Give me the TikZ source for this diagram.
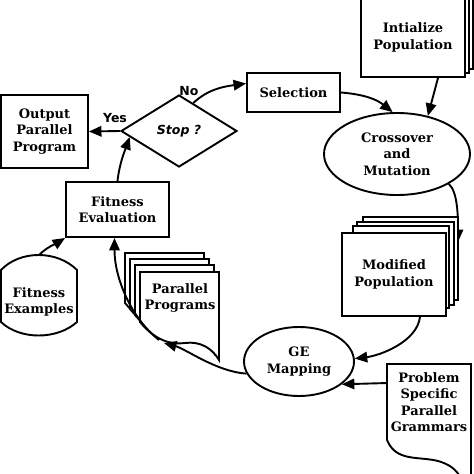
\documentclass[tikz,border=0pt]{standalone}
\usepackage{fontspec}
\setmainfont{DejaVu Serif}
\newfontfamily\labelsans{DejaVu Sans}
\usetikzlibrary{shapes.geometric,arrows.meta,calc}
\begin{document}
\begin{tikzpicture}[x=1pt,y=-1pt,
  line width=1.9pt,
  every node/.style={font=\fontsize{13}{16.5}\selectfont\bfseries, align=center, inner sep=0pt},
  box/.style={draw, rectangle, fill=white},
  page/.style={draw, fill=white},
  oval/.style={draw, ellipse, fill=white},
  conn/.style={-{Triangle[length=12.5pt,width=10.5pt]}, line width=1.9pt},
  lab/.style={font=\labelsans\fontsize{12.5}{14}\selectfont\bfseries}
]
\fill[white] (0,0) rectangle (474,474);
\useasboundingbox (0,0) rectangle (474,474);
\clip (0,0) rectangle (474,474);

% Intialize Population stack
\draw[page] (370,-16) rectangle (473,69);
\draw[page] (366,-12) rectangle (469,73);
\node[box, minimum width=104pt, minimum height=79pt] (init) at (413,37.5) {Intialize\\Population};

% Output
\node[box, minimum width=87pt, minimum height=73pt] (out) at (44.5,131.5) {Output\\Parallel\\Program};

% Stop diamond
\node[draw, diamond, fill=white, minimum width=116pt, minimum height=72pt,
      font=\labelsans\fontsize{12.5}{14}\selectfont\bfseries\itshape] (stop) at (179,131) {Stop ?};

% Selection
\node[box, minimum width=93pt, minimum height=39pt] (sel) at (293.5,92.5) {Selection};

% Crossover
\node[oval, minimum width=146pt, minimum height=82pt] (cross) at (397,154) {Crossover\\and\\Mutation};

% arrow hidden behind the modified stack
\coordinate (modIn) at (458,242);
\draw[conn] (cross.-30) .. controls +(9,8) and +(0,-25) .. (modIn);

% Modified Population stack
\draw[page] (363,217) rectangle (458,300);
\draw[page] (357,222) rectangle (454,305);
\draw[page] (353,226) rectangle (449,308);
\node[box, minimum width=104pt, minimum height=83pt] (mod) at (394,274.5) {Modified\\Population};

% GE Mapping
\node[oval, minimum width=110pt, minimum height=69pt] (ge) at (299,361.5) {GE\\Mapping};

% Problem specific grammars document
\draw[page] (387,364) -- (471,364) -- (471,480) -- (462,480)
   .. controls (456,468) and (448,464) .. (438,461)
   .. controls (418,456) and (396,462) .. (387,440) -- cycle;
\node[minimum width=84pt, minimum height=76pt] (psg) at (429,402) {Problem\\Specific\\Parallel\\Grammars};

% Parallel programs stack
\foreach \dx/\dy in {-15/-19,-10/-13,-5/-7}{
  \draw[page, shift={(\dx,\dy)}] (140,272) -- (219,272) -- (219,360)
     .. controls (212,348) and (200,341) .. (185,343)
     .. controls (170,345) and (155,340) .. (140,322) -- cycle;
}
\draw[page] (140,272) -- (219,272) -- (219,360)
     .. controls (212,348) and (200,341) .. (185,343)
     .. controls (170,345) and (155,340) .. (140,322) -- cycle;
\node (pp) at (180,298) {Parallel\\Programs};
\coordinate (ppIn) at (164,343);
\coordinate (ppOut) at (159,340);

% Fitness Evaluation
\node[box, minimum width=103pt, minimum height=55pt] (fe) at (117.5,209.5) {Fitness\\Evaluation};

% Fitness Examples
\draw[page] (1,270) .. controls (20,250) and (57,250) .. (77,270) -- (77,322)
   .. controls (57,340) and (20,340) .. (1,322) -- cycle;
\node (fex) at (39,302) {Fitness\\Examples};
\coordinate (fexTop) at (39,255);

% labels
\node[lab] (yes) at (115,118) {Yes};
\node[lab] (no) at (189,91) {No};

% connectors
\draw[conn] ($(init.south)+(25,0)$) -- (cross.51);
\draw[conn] (sel.east) .. controls +(25,2) and +(-15,-12) .. (cross.96);
\draw[conn] (stop.63) .. controls +(15,-14) and +(-22,3) .. ($(sel.west)+(0,-9)$);
\draw[conn] (stop.west) -- (out.east);
\draw[conn] ($(mod.south)+(26,0)$) .. controls +(-3,25) and +(25,-3) .. (ge.3);
\draw[conn] ($(psg.north west)+(0,20)$) -- (ge.-28.5);
\draw[conn] (ge.193) .. controls +(-30,-2) and +(22,6) .. (ppIn);
\draw[conn] (ppOut) .. controls +(-28,-22) and +(0,40) .. ($(fe.south)+(-3,0)$);
\draw[conn] (fe.north) .. controls +(2,-18) and +(-5,14) .. (stop.187);
\draw[conn] (fexTop) .. controls +(8,-8) and +(-8,5) .. (fe.south west);
\end{tikzpicture}
\end{document}
